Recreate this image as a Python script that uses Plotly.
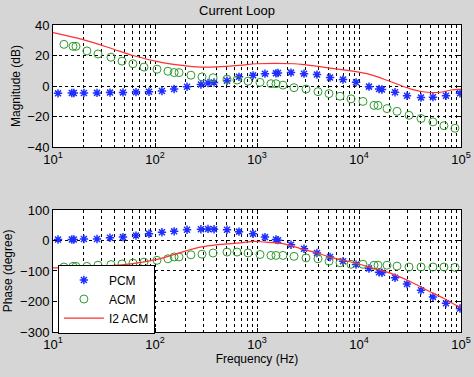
import plotly.graph_objects as go
from plotly.subplots import make_subplots

# PCM measurements
pcm_freq = [11.2, 15.3, 16.0, 20.1, 27.0, 36.2, 48.5, 65.1, 87.3, 117, 154, 206, 282, 331,
            379, 508, 666, 915, 1197, 1535, 1607, 2155, 2890, 3872, 5200, 6970, 9350,
            12530, 15720, 16800, 22550, 29560, 40550, 53100, 71270, 97700]
pcm_mag = [-4.8, -4.6, -4.6, -4.6, -4.5, -4.3, -4.2, -4.0, -3.8, -3.3, -2.0, -0.5, 1.0, 2.0,
           2.3, 3.5, 6.0, 7.0, 8.1, 8.3, 8.5, 8.8, 8.1, 7.5, 5.6, 4.3, 2.4,
           -0.4, -2.0, -2.3, -4.1, -6.4, -7.5, -7.3, -6.4, -4.8]
pcm_phase = [3, 3, 3, 5, 5, 9, 11, 16, 22, 27, 30, 35, 37, 38,
             37, 35, 29, 22, 11, 3, 1, -14, -27, -41, -54, -68, -79,
             -92, -104, -106, -122, -143, -163, -185, -206, -223]

# ACM measurements
acm_freq = [12.8, 15.7, 16.8, 21.5, 27.6, 37.0, 47.5, 60.8, 78.0, 104.6, 134, 154, 172,
            225, 289, 371, 508, 637, 817, 1070, 1371, 1535, 1798, 2306, 3022, 3962,
            5080, 6517, 8350, 10940, 14030, 15360, 18830, 23600, 30920, 40550, 53100,
            68070, 87300]
acm_mag = [27.3, 26.0, 26.0, 23.0, 21.0, 18.9, 16.3, 14.6, 12.4, 11.0, 9.7, 8.8, 8.8,
           7.1, 6.0, 5.4, 4.5, 3.9, 3.2, 2.4, 1.5, 1.5, 0.6, -1.1, -2.0, -3.7,
           -5.0, -6.7, -8.4, -10.1, -12.7, -12.7, -14.8, -16.6, -19.2, -21.3, -23.5,
           -26.0, -27.7]
acm_phase = [-87, -85, -85, -85, -81, -79, -77, -74, -71, -65, -60, -54, -54,
             -47, -45, -41, -38, -38, -41, -46, -49, -49, -49, -52, -57, -60,
             -68, -73, -78, -78, -81, -81, -81, -84, -87, -87, -87,
             -87, -88]

# I2 ACM model curves
i2_mag_freq = [10, 19.7, 38.7, 60.8, 112, 188, 258, 405, 681, 1000, 2306, 2890, 5690,
               11970, 20600, 32360, 46450, 63660, 79800, 100000]
i2_mag = [35, 30.4, 24.3, 20, 15.7, 13.5, 12.5, 12.5, 13.5, 14.6, 14.6, 14, 11.4,
          8.1, 2.8, -2, -4.1, -4.1, -2.6, -2]
i2_ph_freq = [10, 28.9, 60.8, 104.6, 164, 276, 433, 681, 935, 1172, 1841, 2700, 3872,
              5690, 8930, 14030, 20600, 32360, 46450, 68070, 100000]
i2_phase = [-90, -85, -76, -62, -43, -22, -13, -8, -3, -5, -11, -27, -41,
            -58, -73, -92, -108, -136, -163, -190, -222]

x_tickvals = [10, 100, 1000, 10000, 100000]
x_ticktext = ["10<sup>1</sup>", "10<sup>2</sup>", "10<sup>3</sup>", "10<sup>4</sup>", "10<sup>5</sup>"]
x_minor_vals = [m * d for d in (10, 100, 1000, 10000) for m in range(2, 10)]

BLUE = "#1f2fff"
GREEN = "#2e9a2e"
RED = "#ff3030"

fig = make_subplots(rows=2, cols=1, vertical_spacing=0.205)

fig.add_trace(go.Scatter(x=pcm_freq, y=pcm_mag, mode="markers", name="PCM",
                         marker=dict(symbol="asterisk-open", size=7, color=BLUE,
                                     line=dict(color=BLUE, width=1.5)),
                         showlegend=False), row=1, col=1)
fig.add_trace(go.Scatter(x=acm_freq, y=acm_mag, mode="markers", name="ACM",
                         marker=dict(symbol="circle-open", size=8, color=GREEN,
                                     line=dict(color=GREEN, width=1)),
                         showlegend=False), row=1, col=1)
fig.add_trace(go.Scatter(x=i2_mag_freq, y=i2_mag, mode="lines", name="I2 ACM",
                         line=dict(color=RED, width=1.2, shape="spline"),
                         showlegend=False), row=1, col=1)

fig.add_trace(go.Scatter(x=pcm_freq, y=pcm_phase, mode="markers", name="PCM",
                         marker=dict(symbol="asterisk-open", size=7, color=BLUE,
                                     line=dict(color=BLUE, width=1.5))), row=2, col=1)
fig.add_trace(go.Scatter(x=acm_freq, y=acm_phase, mode="markers", name="ACM",
                         marker=dict(symbol="circle-open", size=8, color=GREEN,
                                     line=dict(color=GREEN, width=1))), row=2, col=1)
fig.add_trace(go.Scatter(x=i2_ph_freq, y=i2_phase, mode="lines", name="I2 ACM",
                         line=dict(color=RED, width=1.2, shape="spline")), row=2, col=1)

axis_common = dict(showline=True, linecolor="black", linewidth=1, mirror="allticks",
                   ticks="inside", ticklen=4, tickcolor="black", automargin=False,
                   showgrid=True, gridcolor="black", griddash="dot", gridwidth=1,
                   zeroline=False, tickfont=dict(size=13, color="black"))

for r in (1, 2):
    fig.update_xaxes(type="log", range=[1, 5], tickvals=x_tickvals, ticktext=x_ticktext,
                     minor=dict(tickvals=x_minor_vals, showgrid=True, gridcolor="black",
                                griddash="dot", ticks="inside", ticklen=2, tickcolor="black"),
                     **axis_common, row=r, col=1)

fig.update_yaxes(range=[-40, 40], tickvals=[-40, -20, 0, 20, 40],
                 title=dict(text="Magnitude (dB)", font=dict(size=12, color="black"), standoff=4),
                 **axis_common, row=1, col=1)
fig.update_yaxes(range=[-300, 100], tickvals=[-300, -200, -100, 0, 100],
                 title=dict(text="Phase (degree)", font=dict(size=12, color="black"), standoff=4),
                 **axis_common, row=2, col=1)
fig.update_xaxes(title=dict(text="Frequency (Hz)", font=dict(size=12, color="black"), standoff=2),
                 row=2, col=1)

fig.update_layout(
    width=474, height=377,
    margin=dict(l=53, r=13, t=25, b=45),
    paper_bgcolor="#d6d6d6", plot_bgcolor="white",
    font=dict(family="Liberation Sans, Arial, sans-serif", size=12, color="black"),
    title=dict(text="Current Loop", x=0.5, xanchor="center", y=0.985, yanchor="top",
               font=dict(size=13, color="black")),
    legend=dict(x=0.012, y=-0.005, xanchor="left", yanchor="bottom",
                bgcolor="white", bordercolor="black", borderwidth=1,
                font=dict(size=12, color="black"), tracegroupgap=0, itemwidth=40),
)

fig.write_html("out.html", config={"displayModeBar": False},
               post_script="document.body.style.margin='0';document.body.style.padding='0';"
                           "document.body.style.overflow='hidden';")
